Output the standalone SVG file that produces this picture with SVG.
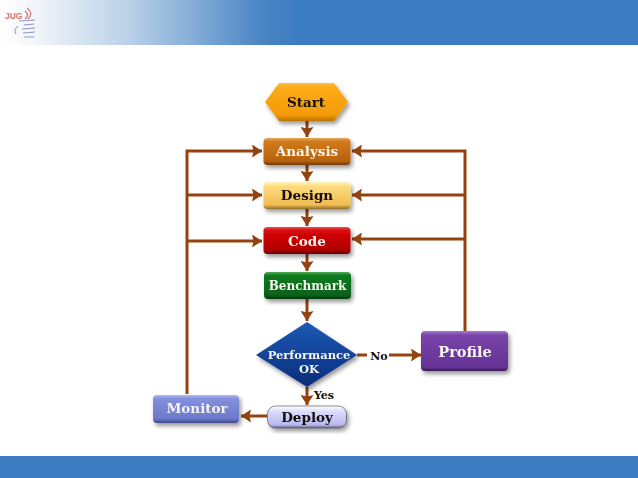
<svg xmlns="http://www.w3.org/2000/svg" width="638" height="478" viewBox="0 0 638 478">
<style>
.l{font-family:"DejaVu Serif","Liberation Serif",serif;font-weight:bold;text-anchor:middle;font-size:13.5px}
.w{fill:#f6f4ee}.k{fill:#141008}
.s{font-size:11px}
.c{fill:none;stroke:#93430f;stroke-width:3}
.n{filter:url(#sh)}
</style>
<defs>
<linearGradient id="hd" x1="0" x2="1" y1="0" y2="0"><stop offset="0" stop-color="#fff"/><stop offset=".06" stop-color="#f0f4f9"/><stop offset=".2" stop-color="#bad1e8"/><stop offset=".3" stop-color="#86aed8"/><stop offset=".41" stop-color="#4a85c5"/><stop offset=".47" stop-color="#3c7cc0"/><stop offset="1" stop-color="#3c7cc0"/></linearGradient>
<linearGradient id="or" x1="0" x2="0" y1="0" y2="1"><stop offset="0" stop-color="#fdc040"/><stop offset=".12" stop-color="#fbab18"/><stop offset=".85" stop-color="#f49a06"/><stop offset="1" stop-color="#b97000"/></linearGradient>
<linearGradient id="an" x1="0" x2="0" y1="0" y2="1"><stop offset="0" stop-color="#e8a860"/><stop offset=".13" stop-color="#d07a1c"/><stop offset=".85" stop-color="#b8620e"/><stop offset="1" stop-color="#6e3a06"/></linearGradient>
<linearGradient id="de" x1="0" x2="0" y1="0" y2="1"><stop offset="0" stop-color="#fff4c0"/><stop offset=".15" stop-color="#fddc80"/><stop offset=".85" stop-color="#f0bc52"/><stop offset="1" stop-color="#8e6c28"/></linearGradient>
<linearGradient id="co" x1="0" x2="0" y1="0" y2="1"><stop offset="0" stop-color="#ee5050"/><stop offset=".13" stop-color="#d80808"/><stop offset=".85" stop-color="#b00000"/><stop offset="1" stop-color="#600000"/></linearGradient>
<linearGradient id="be" x1="0" x2="0" y1="0" y2="1"><stop offset="0" stop-color="#4fa858"/><stop offset=".13" stop-color="#0f7a1e"/><stop offset=".85" stop-color="#08621a"/><stop offset="1" stop-color="#033a0a"/></linearGradient>
<linearGradient id="pe" x1="0" x2="0" y1="0" y2="1"><stop offset="0" stop-color="#1c5ab4"/><stop offset="1" stop-color="#0a2c7c"/></linearGradient>
<linearGradient id="pr" x1="0" x2="0" y1="0" y2="1"><stop offset="0" stop-color="#a47ccc"/><stop offset=".1" stop-color="#7a44aa"/><stop offset=".9" stop-color="#653296"/><stop offset="1" stop-color="#3a1c58"/></linearGradient>
<linearGradient id="mo" x1="0" x2="0" y1="0" y2="1"><stop offset="0" stop-color="#b0b8ee"/><stop offset=".13" stop-color="#8490de"/><stop offset=".85" stop-color="#6c78ca"/><stop offset="1" stop-color="#3f4888"/></linearGradient>
<linearGradient id="dp" x1="0" x2="0" y1="0" y2="1"><stop offset="0" stop-color="#fff"/><stop offset=".25" stop-color="#dcdcfc"/><stop offset=".85" stop-color="#b8b8ee"/><stop offset="1" stop-color="#6a6a98"/></linearGradient>
<filter id="sh" x="-15%" y="-15%" width="135%" height="140%"><feDropShadow dx="2" dy="3" stdDeviation="2" flood-color="#000" flood-opacity=".4"/></filter>
<marker id="a" markerUnits="userSpaceOnUse" markerWidth="11" markerHeight="13" refX="10" refY="6.500" orient="auto"><path d="M0 0L10 6.500L0 13L1.500 6.500Z" fill="#93430f"/></marker>
</defs>
<rect id="header" width="638" height="45" fill="url(#hd)"/>
<rect id="footer" y="456" width="638" height="22" fill="#3c7cc0"/>
<g id="logo">
<text x="5" y="19" font-family="Liberation Sans,sans-serif" font-size="8.500" font-weight="bold" fill="#d9706e">JUG</text>
<path d="M27 8Q34 13 28 19M25 11Q30 15 25 19" fill="none" stroke="#d9706e" stroke-width="1.300"/>
<path d="M19 21L35 20M24 25L34 24M22 29L35 28M23 33L35 32M24 37L34 37" fill="none" stroke="#8e94c8" stroke-width="1.200"/>
<path d="M18 26Q13 30 16 34" fill="none" stroke="#8e94c8" stroke-width="1"/>
</g>
<g id="connectors">
<path class="c" marker-end="url(#a)" d="M307 121V137"/>
<path class="c" marker-end="url(#a)" d="M307 165V181"/>
<path class="c" marker-end="url(#a)" d="M307 209V226"/>
<path class="c" marker-end="url(#a)" d="M307 254V271"/>
<path class="c" marker-end="url(#a)" d="M307 299V321"/>
<path class="c" d="M357 355H367"/>
<path class="c" marker-end="url(#a)" d="M389 355H421"/>
<path class="c" marker-end="url(#a)" d="M307 387V405"/>
<path class="c" marker-end="url(#a)" d="M267 416H241"/>
<path class="c" marker-end="url(#a)" d="M187 394V151H262"/>
<path class="c" marker-end="url(#a)" d="M187 195H262"/>
<path class="c" marker-end="url(#a)" d="M187 241H262"/>
<path class="c" marker-end="url(#a)" d="M465 331V151H352"/>
<path class="c" marker-end="url(#a)" d="M465 195H352"/>
<path class="c" marker-end="url(#a)" d="M465 239H352"/>
</g>
<g id="start" class="n"><path d="M265 102L279 83H334L348 102L334 121H279Z" fill="url(#or)"/><text class="l k" x="306" y="107">Start</text></g>
<g id="analysis" class="n"><rect x="263.500" y="138" width="87" height="27" rx="4" fill="url(#an)"/><text class="l w" x="307" y="156">Analysis</text></g>
<g id="design" class="n"><rect x="263.500" y="182" width="87" height="27" rx="4" fill="url(#de)"/><text class="l k" x="307" y="200">Design</text></g>
<g id="code" class="n"><rect x="263.500" y="227" width="87" height="27" rx="4" fill="url(#co)"/><text class="l w" x="307" y="246">Code</text></g>
<g id="benchmark" class="n"><rect x="264" y="272" width="87" height="27" rx="4" fill="url(#be)"/><text class="l w" x="307.500" y="290" style="font-size:12px">Benchmark</text></g>
<g id="performance" class="n"><path d="M256 355L307 322L357 355L307 387Z" fill="url(#pe)"/><text class="l w" x="309" y="359" style="font-size:11.500px">Performance</text><text class="l w" x="309" y="373" style="font-size:11.500px">OK</text></g>
<g id="profile" class="n"><rect x="421" y="331" width="87" height="40" rx="4" fill="url(#pr)"/><text class="l w" x="465" y="357" style="font-size:14.500px">Profile</text></g>
<g id="monitor" class="n"><rect x="153" y="395" width="86" height="28" rx="4" fill="url(#mo)"/><text class="l w" x="197" y="413">Monitor</text></g>
<g id="deploy" class="n"><rect x="267.500" y="406" width="79" height="22" rx="8" fill="url(#dp)" stroke="#444" stroke-width=".6"/><text class="l k" x="307" y="422">Deploy</text></g>
<text class="l k s" x="379" y="360">No</text>
<text class="l k s" x="324" y="399">Yes</text>
</svg>
